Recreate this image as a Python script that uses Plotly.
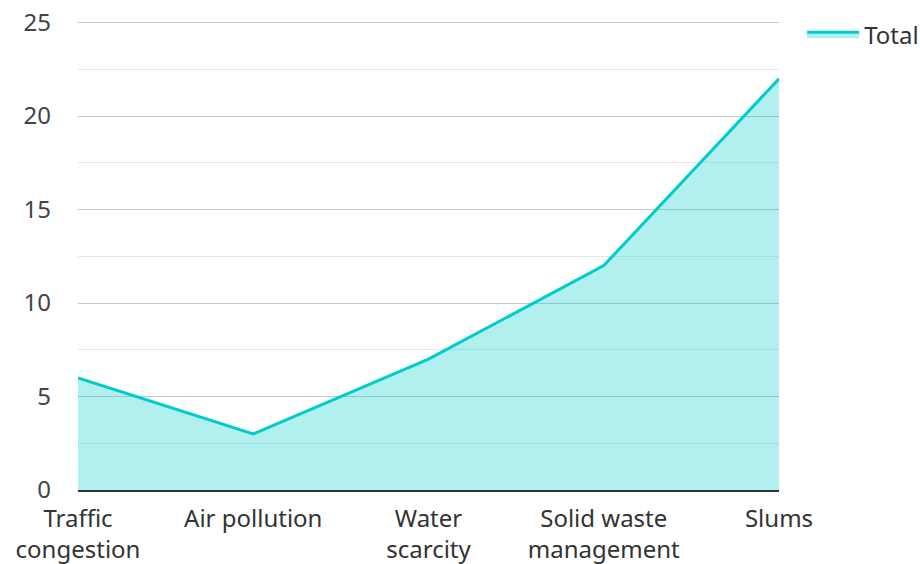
import plotly.graph_objects as go

categories = ["Traffic<br>congestion", "Air pollution", "Water<br>scarcity",
              "Solid waste<br>management", "Slums"]
totals = [6, 3, 7, 12, 22]
y_ticks = [0, 5, 10, 15, 20, 25]

fig = go.Figure()
fig.add_trace(go.Scatter(
    x=categories, y=totals, name="Total", mode="lines",
    line=dict(color="#00cccc", width=3),
    fill="tozeroy", fillcolor="rgba(0,204,204,0.3)",
))

fig.update_layout(
    width=920, height=564,
    margin=dict(l=78, r=141, t=17, b=74, autoexpand=False),
    paper_bgcolor="white", plot_bgcolor="white",
    font=dict(family="Noto Sans", size=24, color="#333333"),
    showlegend=True,
    legend=dict(x=1.033, y=1.01, xanchor="left", yanchor="top", itemwidth=52,
                font=dict(size=24, color="#333333"), bgcolor="rgba(0,0,0,0)"),
    xaxis=dict(range=[0, 4], showgrid=False, showline=True, linecolor="#333333",
               linewidth=2, ticks="", tickfont=dict(size=24, color="#333333"),
               zeroline=False, ticklabelstandoff=6, automargin=False),
    yaxis=dict(range=[0, 25.3], tickvals=y_ticks, showgrid=True, gridcolor="#c8c8c8",
               gridwidth=1, zeroline=False, showline=False, ticks="",
               tickfont=dict(size=24, color="#444444"), ticklabelstandoff=26,
               automargin=False,
               minor=dict(dtick=2.5, showgrid=True, gridcolor="#e8e8e8", gridwidth=1)),
)

fig.write_html("out.html")
